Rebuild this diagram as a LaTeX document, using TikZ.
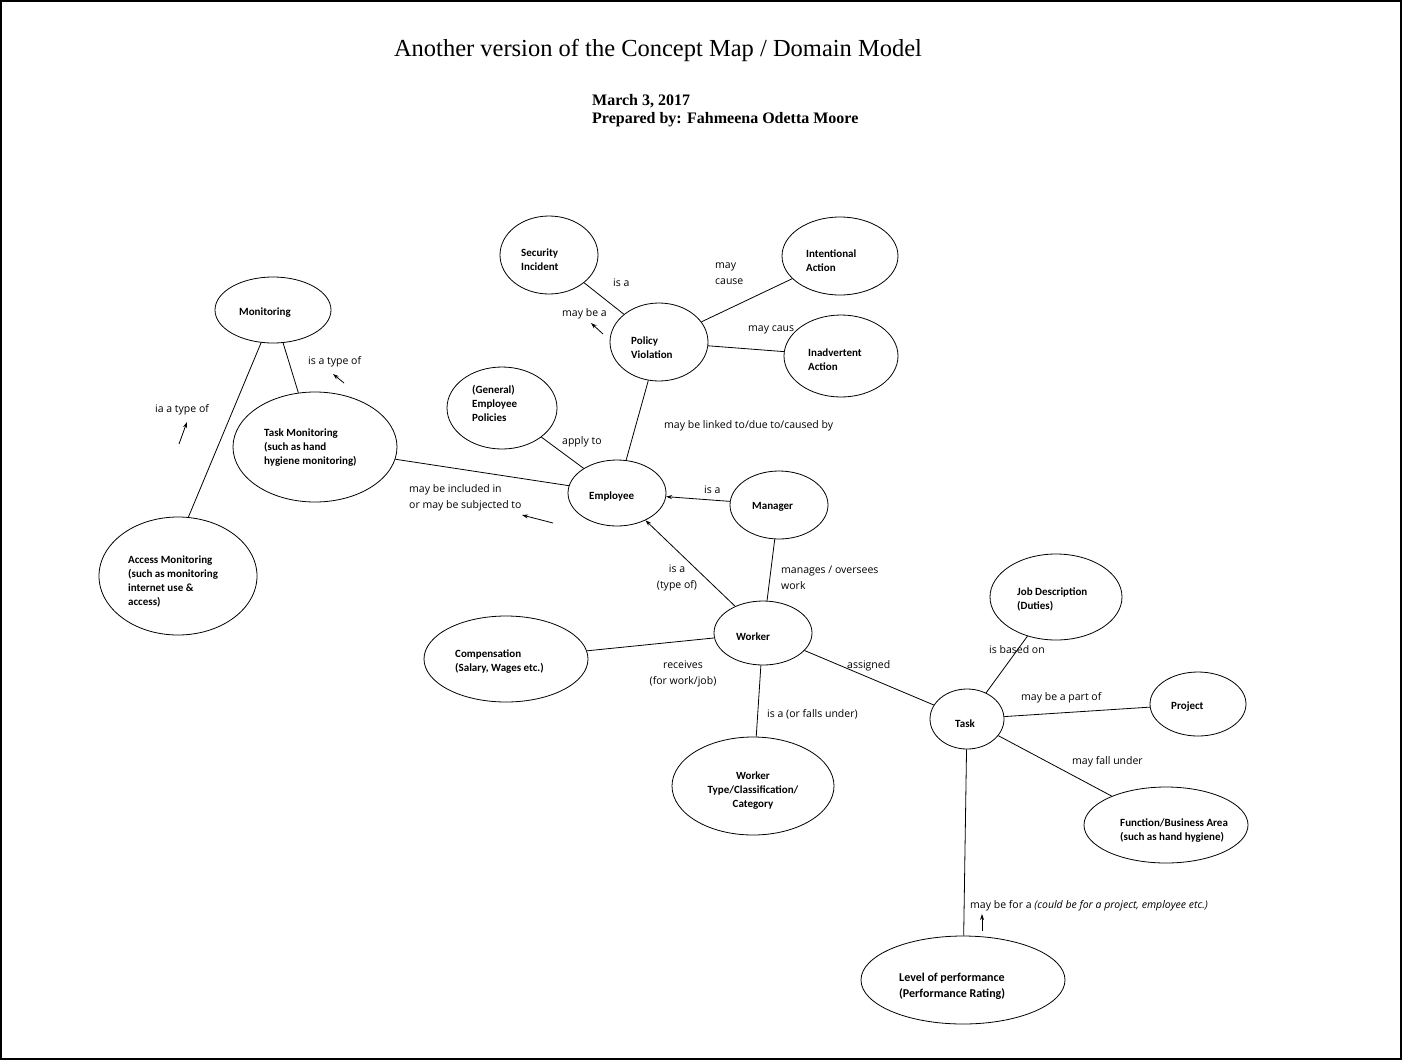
\documentclass[tikz,border=0pt]{standalone}
\usepackage{fontspec}
\setmainfont{Liberation Serif}
\newfontfamily\nodefont{Carlito}
\newfontfamily\labfont{Open Sans}
\usetikzlibrary{shapes.geometric,arrows.meta}
\begin{document}
\begin{tikzpicture}[x=1pt,y=-1pt,
  cn/.style={draw,thick,ellipse,inner sep=0pt},
  ct/.style={font=\nodefont\bfseries\fontsize{11}{14}\selectfont,align=left,anchor=west,inner sep=0pt},
  lab/.style={font=\labfont\fontsize{10.5}{16}\selectfont,align=left,anchor=west,inner sep=0pt},
  ln/.style={draw,thick},
  ar/.style={draw,thick,-{Stealth[length=6pt,width=4pt]}}]
\useasboundingbox (0,0) rectangle (1403,1061);
\fill[white] (0,0) rectangle (1403,1061);
\draw[line width=2pt] (1,1) rectangle (1401,1059);
\draw[line width=2pt] (1401,3) -- (1401,1059) -- (3,1059);
% title
\node[font=\fontsize{24.5}{28}\selectfont] (title) at (658,50) {Another version of the Concept Map / Domain Model};
\node[font=\bfseries\fontsize{16}{18}\selectfont,align=left,anchor=north west,inner sep=0pt] (sub) at (592,94) {March 3, 2017\\Prepared by: Fahmeena Odetta Moore};
% ellipses
\newcommand{\myell}[4]{\node[cn,minimum width=#3*2pt,minimum height=#4*2pt] (#1) at (#2) {};}
\myell{sec}{549,255}{49}{39}
\myell{int}{840,256}{58}{39}
\myell{pv}{659,342}{49}{39}
\myell{ina}{841,356}{57}{41}
\myell{mon}{273,310}{58}{33}
\myell{gep}{502,408}{55}{41}
\myell{tm}{315,447}{82}{55}
\myell{emp}{617,493}{49}{33}
\myell{man}{779,505}{49}{34}
\myell{am}{178,576}{79}{59}
\myell{jd}{1056,597}{66}{43}
\myell{comp}{506,659}{82}{43}
\myell{wk}{763,633}{49}{32}
\myell{proj}{1198,704}{48}{32}
\myell{task}{967,719}{37}{30}
\myell{wt}{753,786}{81}{49}
\myell{fba}{1166,825}{82}{38}
\myell{lp}{963,980}{102}{44}
% texts
\node[ct] (tsec) at (521,260) {Security\\Incident};
\node[ct] (tint) at (806,261) {Intentional\\Action};
\node[ct] (tpv) at (631,348) {Policy\\Violation};
\node[ct] (tina) at (808,360) {Inadvertent\\Action};
\node[ct] (tmon) at (239,313) {Monitoring};
\node[ct] (tgep) at (472,403) {(General)\\Employee\\Policies};
\node[ct] (ttm) at (264,448) {Task Monitoring\\(such as hand\\hygiene monitoring)};
\node[ct] (temp) at (589,496) {Employee};
\node[ct] (tman) at (752,507) {Manager};
\node[ct] (tam) at (128,581) {Access Monitoring\\(such as monitoring\\internet use \&\\access)};
\node[ct] (tjd) at (1017,599) {Job Description\\(Duties)};
\node[ct] (tcomp) at (455,662) {Compensation\\(Salary, Wages etc.)};
\node[ct] (twk) at (736,637) {Worker};
\node[ct] (tproj) at (1171,707) {Project};
\node[ct] (ttask) at (955,724) {Task};
\node[ct,align=center,anchor=center] (twt) at (753,791) {Worker\\Type/Classification/\\Category};
\node[ct] (tfba) at (1120,831) {Function/Business Area\\(such as hand hygiene)};
\node[ct,font=\nodefont\bfseries\fontsize{12}{16}\selectfont] (tlp) at (899,986) {Level of performance\\(Performance Rating)};
% connectors
\draw[ln] (sec) -- (pv);
\draw[ln] (int) -- (pv);
\draw[ln] (ina) -- (pv);
\draw[ln] (pv) -- (emp);
\draw[ln] (gep) -- (emp);
\draw[ln] (tm) -- (emp);
\draw[ar] (man) -- (emp);
\draw[ar] (wk) -- (emp);
\draw[ln] (man) -- (wk);
\draw[ln] (comp) -- (wk);
\draw[ln] (wk) -- (wt);
\draw[ln] (wk) -- (task);
\draw[ln] (task) -- (jd);
\draw[ln] (task) -- (proj);
\draw[ln] (task) -- (fba);
\draw[ln] (task) -- (lp);
\draw[ln] (mon) -- (tm);
\draw[ln] (mon.250) -- (am.80);
% free arrows
\coordinate (a1s) at (603,334); \coordinate (a1e) at (591,323);
\coordinate (a2s) at (344,383); \coordinate (a2e) at (333,374);
\coordinate (a3s) at (179,444); \coordinate (a3e) at (187,422);
\coordinate (a4s) at (553,523); \coordinate (a4e) at (522,515);
\coordinate (a5s) at (982,931); \coordinate (a5e) at (982,914);
\draw[ar] (a1s) -- (a1e);
\draw[ar] (a2s) -- (a2e);
\draw[ar] (a3s) -- (a3e);
\draw[ar] (a4s) -- (a4e);
\draw[ar] (a5s) -- (a5e);
% labels
\node[lab] (l1) at (613,283) {is a};
\node[lab] (l2) at (715,274) {may\\cause};
\node[lab] (l3) at (748,330) {may caus};
\node[lab] (l4) at (562,314) {may be a};
\node[lab] (l5) at (664,426) {may be linked to/due to/caused by};
\node[lab] (l6) at (562,442) {apply to};
\node[lab] (l7) at (308,362) {is a type of};
\node[lab] (l8) at (155,410) {ia a type of};
\node[lab] (l9) at (409,498) {may be included in\\or may be subjected to};
\node[lab] (l10) at (704,490) {is a};
\node[lab] (l11) at (781,578) {manages / oversees\\work};
\node[lab,align=center,anchor=center] (l12) at (677,578) {is a\\(type of)};
\node[lab,align=center,anchor=center] (l13) at (683,674) {receives\\(for work/job)};
\node[lab] (l14) at (847,666) {assigned};
\node[lab] (l15) at (767,714) {is a (or falls under)};
\node[lab] (l16) at (989,650) {is based on};
\node[lab] (l17) at (1021,698) {may be a part of};
\node[lab] (l18) at (1072,762) {may fall under};
\node[lab] (l19) at (970,906) {may be for a \textit{(could be for a project, employee etc.)}};
\end{tikzpicture}
\end{document}
